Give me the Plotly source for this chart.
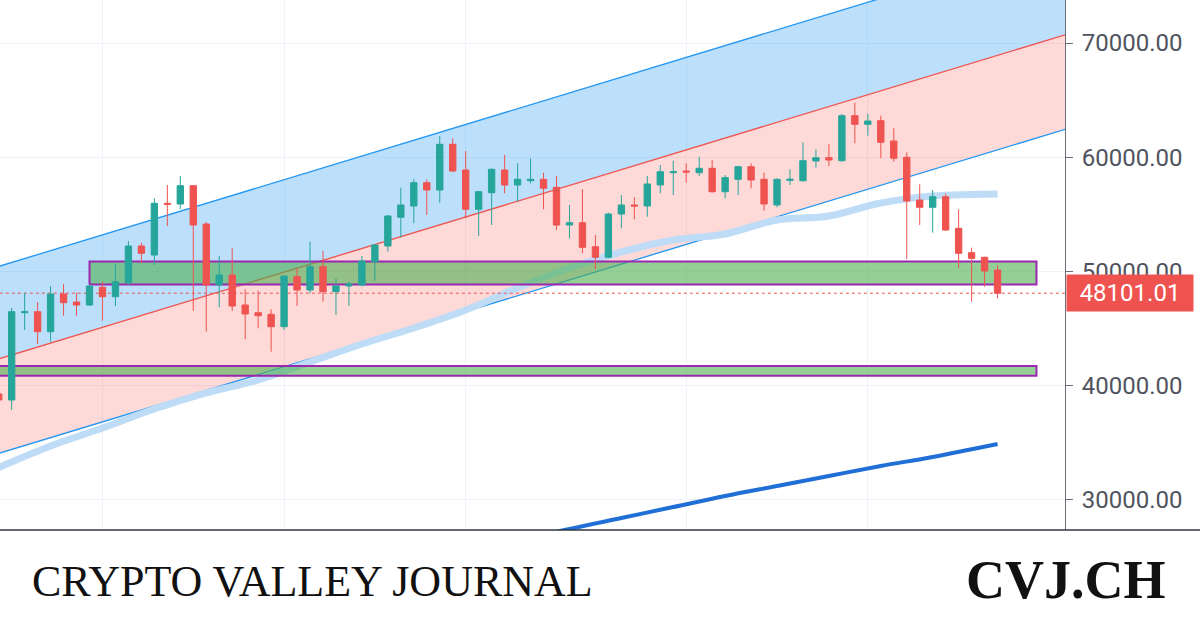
import pandas as pd
import plotly.graph_objects as go

# ---------------- data ----------------
dates = pd.date_range("2021-02-07", periods=78, freq="D")

open_ = [39277, 38752, 46393, 46481, 44730, 48030, 47330, 47067, 48617, 47794,
         49019, 52232, 51444, 55969, 55908, 57510, 54157, 48818, 49693, 47067,
         46393, 46253, 45168, 49544, 48380, 50420, 48232, 48730, 48818, 50857,
         52232, 54744, 55733, 57772, 57133, 61133, 58884, 55444, 56897, 58884,
         57571, 57947, 58070, 57370, 54070, 54271, 52170, 51243, 55033, 55820,
         55733, 57571, 58647, 58796, 58647, 59033, 56985, 58070, 59173, 58070,
         55820, 57982, 57947, 59672, 59960, 59698, 63637, 62884, 63199, 61422,
         59996, 56258, 55619, 56547, 53781, 51645, 51243, 50131]
high = [39700, 46805, 48144, 47330, 48730, 48905, 48144, 48818, 49107, 50656,
        52669, 52520, 56407, 57571, 58359, 57571, 54332, 51356, 52083, 48442,
        48319, 46691, 49650, 50280, 52608, 51820, 49404, 49107, 51356, 52400,
        54950, 57335, 58070, 58070, 61860, 61659, 60547, 57050, 59033, 60197,
        59470, 59908, 58647, 58359, 55820, 57195, 53194, 55146, 56696, 56494,
        58359, 59322, 59698, 59470, 60048, 59759, 58446, 59250, 59470, 58647,
        58157, 58945, 61308, 60696, 61160, 63786, 64775, 63786, 63637, 62534,
        60433, 57632, 57133, 56844, 55444, 52083, 51300, 50569]
low = [38300, 37877, 44879, 43654, 43855, 46131, 46131, 46980, 45693, 46980,
       48818, 50770, 50569, 53982, 55444, 46542, 44730, 46866, 46542, 44065,
       45028, 42980, 44879, 46980, 48091, 47356, 46192, 46980, 48750, 49194,
       51733, 52993, 54219, 54945, 56022, 58700, 54656, 53107, 54070, 56844,
       56109, 57720, 55444, 53632, 52906, 51593, 50192, 51150, 53781, 54569,
       54796, 56844, 56696, 57772, 58359, 56897, 56407, 56696, 57282, 55321,
       55619, 57571, 57860, 59085, 59234, 59610, 61221, 61886, 59908, 59610,
       51094, 54070, 53396, 53545, 50280, 47356, 48669, 47654]
close = [38752, 46481, 46481, 44730, 48030, 47269, 47067, 48730, 47794, 49107,
         52232, 51593, 55969, 55882, 57510, 54070, 48818, 49693, 46980, 46280,
         46131, 45168, 49606, 48380, 50420, 48232, 48730, 48905, 50919, 52319,
         54858, 55820, 57772, 57133, 61133, 58796, 55444, 56985, 58945, 57571,
         58070, 58070, 57282, 54070, 54271, 52118, 51243, 55033, 55820, 55733,
         57658, 58735, 58735, 58709, 59033, 56985, 58210, 59173, 58009, 55908,
         58070, 58070, 59698, 59960, 59759, 63637, 62884, 63173, 61308, 59908,
         56170, 55619, 56547, 53632, 51593, 51155, 50043, 48101.01]

# light-blue moving average (candle index, value)
ma_fast_idx = [0, 4, 8, 12, 16, 20, 24, 28, 32, 36, 40, 44, 48, 52, 56, 60, 64, 68, 72, 75, 77]
ma_fast_val = [32844, 34726, 36301, 37964, 39366, 40503, 42078, 43654, 45054, 46630,
               48556, 50306, 51706, 52756, 53281, 54507, 54857, 55995, 56608, 56740, 56783]

# dark-blue moving average (candle index, value)
ma_slow_idx = [40, 44, 48, 52, 56, 60, 64, 68, 72, 77]
ma_slow_val = [26410, 27461, 28422, 29385, 30351, 31225, 32101, 32976, 33764, 34900]

# parallel channel: values at candle index -5 and 90 (upper, middle, lower)
channel_idx = [-5, 90]
channel_upper = [48720, 81505]
channel_mid = [40624, 73409]
channel_lower = [32352, 65137]

# support zones: (start index, end index, low, high)
zones = [(7, 80, 48862, 50875), (-5, 80, 40879, 41728)]

y_ticks = [30000, 40000, 50000, 60000, 70000]
x_grid_dates = ["2021-02-15", "2021-03-01", "2021-03-15", "2021-04-01", "2021-04-15"]
last_price = close[-1]

# ---------------- helpers ----------------
def d(i):
    return dates[0] + pd.Timedelta(days=i)

fig = go.Figure()

xa, xb = d(channel_idx[0]), d(channel_idx[1])
# channel fills
fig.add_trace(go.Scatter(x=[xa, xb, xb, xa], y=[channel_upper[0], channel_upper[1], channel_mid[1], channel_mid[0]],
                         fill="toself", fillcolor="rgba(33,150,243,0.3)", line=dict(width=0),
                         mode="lines", hoverinfo="skip", showlegend=False))
fig.add_trace(go.Scatter(x=[xa, xb, xb, xa], y=[channel_mid[0], channel_mid[1], channel_lower[1], channel_lower[0]],
                         fill="toself", fillcolor="rgba(244,67,54,0.2)", line=dict(width=0),
                         mode="lines", hoverinfo="skip", showlegend=False))
# channel lines
for vals, col in [(channel_upper, "#2196f3"), (channel_mid, "#ef5350"), (channel_lower, "#2196f3")]:
    fig.add_trace(go.Scatter(x=[xa, xb], y=vals, mode="lines", line=dict(color=col, width=1.3),
                             hoverinfo="skip", showlegend=False))

# moving averages
fig.add_trace(go.Scatter(x=[d(i) for i in ma_fast_idx], y=ma_fast_val, mode="lines",
                         line=dict(color="#bfdcf7", width=7, shape="spline"), hoverinfo="skip", showlegend=False))
fig.add_trace(go.Scatter(x=[d(i) for i in ma_slow_idx], y=ma_slow_val, mode="lines",
                         line=dict(color="#1f6fd6", width=4, shape="spline"), hoverinfo="skip", showlegend=False))

# zones
for i0, i1, lo, hi in zones:
    fig.add_trace(go.Scatter(x=[d(i0), d(i1), d(i1), d(i0), d(i0)], y=[lo, lo, hi, hi, lo],
                             fill="toself", fillcolor="rgba(76,175,80,0.6)",
                             line=dict(color="#9c27b0", width=2), mode="lines",
                             hoverinfo="skip", showlegend=False))

# last price line
fig.add_trace(go.Scatter(x=[xa, xb], y=[last_price, last_price], mode="lines",
                         line=dict(color="#ef5350", width=1, dash="dot"), hoverinfo="skip", showlegend=False))

# candles on an overlaid subplot so they are drawn on top of the fills
fig.add_trace(go.Candlestick(x=dates, open=open_, high=high, low=low, close=close,
                             increasing=dict(line=dict(color="#26a69a", width=1), fillcolor="#26a69a"),
                             decreasing=dict(line=dict(color="#ef5350", width=1), fillcolor="#ef5350"),
                             whiskerwidth=0, showlegend=False, xaxis="x2", yaxis="y2"))

x_start = dates[0] + pd.Timedelta(hours=2.4)
x_end = dates[0] + pd.Timedelta(hours=82.2 * 24)
y_range = [27373, 73764]

fig.update_layout(
    width=1200, height=630,
    margin=dict(l=0, r=135, t=0, b=100),
    paper_bgcolor="white", plot_bgcolor="white",
    showlegend=False,
    xaxis=dict(range=[x_start, x_end], rangeslider=dict(visible=False), showticklabels=False,
               tickvals=x_grid_dates, showgrid=True, gridcolor="#eff2f8", gridwidth=1,
               zeroline=False, showline=False, ticks=""),
    xaxis2=dict(range=[x_start, x_end], overlaying="x", rangeslider=dict(visible=False),
                visible=False, showgrid=False, zeroline=False),
    yaxis=dict(range=y_range, side="right", tickvals=y_ticks, tickformat=".2f",
               showgrid=True, gridcolor="#eff2f8", zeroline=False,
               showline=True, linecolor="#6a6d78", linewidth=1,
               ticks="outside", ticklen=7, tickcolor="#6a6d78",
               tickfont=dict(family="Roboto", size=24, color="#50535e"),
               ticklabelstandoff=4),
    yaxis2=dict(range=y_range, overlaying="y", side="right", visible=False,
                showgrid=False, zeroline=False),
    annotations=[
        dict(x=1, xref="paper", xanchor="left", xshift=1, y=last_price, yref="y", yanchor="middle",
             text="48101.01", showarrow=False, bgcolor="#ef5350", width=126, height=36,
             font=dict(family="Roboto", size=24, color="white"), borderpad=0),
        dict(x=30 / 1065, xref="paper", xanchor="left", y=-0.098, yref="paper", yanchor="middle",
             text="CRYPTO VALLEY JOURNAL", showarrow=False,
             font=dict(family="Liberation Serif", size=44, color="#111111")),
        dict(x=1168 / 1065, xref="paper", xanchor="right", y=-0.094, yref="paper", yanchor="middle",
             text="<b>CVJ.CH</b>", showarrow=False,
             font=dict(family="Liberation Serif", size=54, color="#111111")),
    ],
    shapes=[
        dict(type="line", xref="paper", yref="paper", x0=0, x1=1200 / 1065, y0=0, y1=0,
             line=dict(color="#2e3440", width=1.5)),
    ],
)

fig.write_html("out.html")
